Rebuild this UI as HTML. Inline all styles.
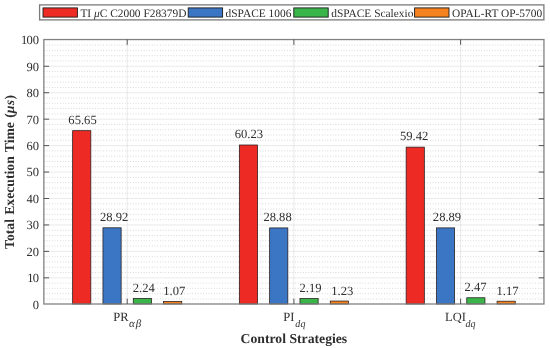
<!DOCTYPE html><html><head><meta charset="utf-8"><title>chart</title>
<style>html,body{margin:0;padding:0;background:#fff}svg{display:block}text{font-family:"Liberation Serif", serif;fill:#2e2e2e;text-rendering:geometricPrecision}</style></head><body>
<svg width="550" height="348" viewBox="0 0 550 348">
<rect width="550" height="348" fill="#fff"/>
<line x1="43.85" x2="543.95" y1="298.99" y2="298.99" stroke="#c4c4c4" stroke-width="0.8" stroke-dasharray="0.8 1.9"/>
<line x1="43.85" x2="543.95" y1="293.70" y2="293.70" stroke="#c4c4c4" stroke-width="0.8" stroke-dasharray="0.8 1.9"/>
<line x1="43.85" x2="543.95" y1="288.41" y2="288.41" stroke="#c4c4c4" stroke-width="0.8" stroke-dasharray="0.8 1.9"/>
<line x1="43.85" x2="543.95" y1="283.12" y2="283.12" stroke="#c4c4c4" stroke-width="0.8" stroke-dasharray="0.8 1.9"/>
<line x1="43.85" x2="543.95" y1="272.55" y2="272.55" stroke="#c4c4c4" stroke-width="0.8" stroke-dasharray="0.8 1.9"/>
<line x1="43.85" x2="543.95" y1="267.26" y2="267.26" stroke="#c4c4c4" stroke-width="0.8" stroke-dasharray="0.8 1.9"/>
<line x1="43.85" x2="543.95" y1="261.97" y2="261.97" stroke="#c4c4c4" stroke-width="0.8" stroke-dasharray="0.8 1.9"/>
<line x1="43.85" x2="543.95" y1="256.68" y2="256.68" stroke="#c4c4c4" stroke-width="0.8" stroke-dasharray="0.8 1.9"/>
<line x1="43.85" x2="543.95" y1="246.10" y2="246.10" stroke="#c4c4c4" stroke-width="0.8" stroke-dasharray="0.8 1.9"/>
<line x1="43.85" x2="543.95" y1="240.81" y2="240.81" stroke="#c4c4c4" stroke-width="0.8" stroke-dasharray="0.8 1.9"/>
<line x1="43.85" x2="543.95" y1="235.52" y2="235.52" stroke="#c4c4c4" stroke-width="0.8" stroke-dasharray="0.8 1.9"/>
<line x1="43.85" x2="543.95" y1="230.23" y2="230.23" stroke="#c4c4c4" stroke-width="0.8" stroke-dasharray="0.8 1.9"/>
<line x1="43.85" x2="543.95" y1="219.66" y2="219.66" stroke="#c4c4c4" stroke-width="0.8" stroke-dasharray="0.8 1.9"/>
<line x1="43.85" x2="543.95" y1="214.37" y2="214.37" stroke="#c4c4c4" stroke-width="0.8" stroke-dasharray="0.8 1.9"/>
<line x1="43.85" x2="543.95" y1="209.08" y2="209.08" stroke="#c4c4c4" stroke-width="0.8" stroke-dasharray="0.8 1.9"/>
<line x1="43.85" x2="543.95" y1="203.79" y2="203.79" stroke="#c4c4c4" stroke-width="0.8" stroke-dasharray="0.8 1.9"/>
<line x1="43.85" x2="543.95" y1="193.21" y2="193.21" stroke="#c4c4c4" stroke-width="0.8" stroke-dasharray="0.8 1.9"/>
<line x1="43.85" x2="543.95" y1="187.92" y2="187.92" stroke="#c4c4c4" stroke-width="0.8" stroke-dasharray="0.8 1.9"/>
<line x1="43.85" x2="543.95" y1="182.63" y2="182.63" stroke="#c4c4c4" stroke-width="0.8" stroke-dasharray="0.8 1.9"/>
<line x1="43.85" x2="543.95" y1="177.34" y2="177.34" stroke="#c4c4c4" stroke-width="0.8" stroke-dasharray="0.8 1.9"/>
<line x1="43.85" x2="543.95" y1="166.77" y2="166.77" stroke="#c4c4c4" stroke-width="0.8" stroke-dasharray="0.8 1.9"/>
<line x1="43.85" x2="543.95" y1="161.48" y2="161.48" stroke="#c4c4c4" stroke-width="0.8" stroke-dasharray="0.8 1.9"/>
<line x1="43.85" x2="543.95" y1="156.19" y2="156.19" stroke="#c4c4c4" stroke-width="0.8" stroke-dasharray="0.8 1.9"/>
<line x1="43.85" x2="543.95" y1="150.90" y2="150.90" stroke="#c4c4c4" stroke-width="0.8" stroke-dasharray="0.8 1.9"/>
<line x1="43.85" x2="543.95" y1="140.32" y2="140.32" stroke="#c4c4c4" stroke-width="0.8" stroke-dasharray="0.8 1.9"/>
<line x1="43.85" x2="543.95" y1="135.03" y2="135.03" stroke="#c4c4c4" stroke-width="0.8" stroke-dasharray="0.8 1.9"/>
<line x1="43.85" x2="543.95" y1="129.74" y2="129.74" stroke="#c4c4c4" stroke-width="0.8" stroke-dasharray="0.8 1.9"/>
<line x1="43.85" x2="543.95" y1="124.45" y2="124.45" stroke="#c4c4c4" stroke-width="0.8" stroke-dasharray="0.8 1.9"/>
<line x1="43.85" x2="543.95" y1="113.88" y2="113.88" stroke="#c4c4c4" stroke-width="0.8" stroke-dasharray="0.8 1.9"/>
<line x1="43.85" x2="543.95" y1="108.59" y2="108.59" stroke="#c4c4c4" stroke-width="0.8" stroke-dasharray="0.8 1.9"/>
<line x1="43.85" x2="543.95" y1="103.30" y2="103.30" stroke="#c4c4c4" stroke-width="0.8" stroke-dasharray="0.8 1.9"/>
<line x1="43.85" x2="543.95" y1="98.01" y2="98.01" stroke="#c4c4c4" stroke-width="0.8" stroke-dasharray="0.8 1.9"/>
<line x1="43.85" x2="543.95" y1="87.43" y2="87.43" stroke="#c4c4c4" stroke-width="0.8" stroke-dasharray="0.8 1.9"/>
<line x1="43.85" x2="543.95" y1="82.14" y2="82.14" stroke="#c4c4c4" stroke-width="0.8" stroke-dasharray="0.8 1.9"/>
<line x1="43.85" x2="543.95" y1="76.85" y2="76.85" stroke="#c4c4c4" stroke-width="0.8" stroke-dasharray="0.8 1.9"/>
<line x1="43.85" x2="543.95" y1="71.56" y2="71.56" stroke="#c4c4c4" stroke-width="0.8" stroke-dasharray="0.8 1.9"/>
<line x1="43.85" x2="543.95" y1="60.99" y2="60.99" stroke="#c4c4c4" stroke-width="0.8" stroke-dasharray="0.8 1.9"/>
<line x1="43.85" x2="543.95" y1="55.70" y2="55.70" stroke="#c4c4c4" stroke-width="0.8" stroke-dasharray="0.8 1.9"/>
<line x1="43.85" x2="543.95" y1="50.41" y2="50.41" stroke="#c4c4c4" stroke-width="0.8" stroke-dasharray="0.8 1.9"/>
<line x1="43.85" x2="543.95" y1="45.12" y2="45.12" stroke="#c4c4c4" stroke-width="0.8" stroke-dasharray="0.8 1.9"/>
<line x1="43.85" x2="543.95" y1="277.83" y2="277.83" stroke="#dcdcdc" stroke-width="0.6"/>
<line x1="43.85" x2="543.95" y1="251.39" y2="251.39" stroke="#dcdcdc" stroke-width="0.6"/>
<line x1="43.85" x2="543.95" y1="224.94" y2="224.94" stroke="#dcdcdc" stroke-width="0.6"/>
<line x1="43.85" x2="543.95" y1="198.50" y2="198.50" stroke="#dcdcdc" stroke-width="0.6"/>
<line x1="43.85" x2="543.95" y1="172.05" y2="172.05" stroke="#dcdcdc" stroke-width="0.6"/>
<line x1="43.85" x2="543.95" y1="145.61" y2="145.61" stroke="#dcdcdc" stroke-width="0.6"/>
<line x1="43.85" x2="543.95" y1="119.16" y2="119.16" stroke="#dcdcdc" stroke-width="0.6"/>
<line x1="43.85" x2="543.95" y1="92.72" y2="92.72" stroke="#dcdcdc" stroke-width="0.6"/>
<line x1="43.85" x2="543.95" y1="66.27" y2="66.27" stroke="#dcdcdc" stroke-width="0.6"/>
<line x1="127.20" x2="127.20" y1="39.55" y2="304.00" stroke="#dcdcdc" stroke-width="0.6"/>
<line x1="293.90" x2="293.90" y1="39.55" y2="304.00" stroke="#dcdcdc" stroke-width="0.6"/>
<line x1="460.60" x2="460.60" y1="39.55" y2="304.00" stroke="#dcdcdc" stroke-width="0.6"/>
<rect x="72.64" y="130.67" width="18.19" height="173.33" fill="#ee2a24" stroke="#241a1a" stroke-width="0.75"/>
<text x="82.54" y="124.10" font-size="12.6" text-anchor="middle">65.65</text>
<rect x="102.95" y="227.80" width="18.19" height="76.20" fill="#3a76c4" stroke="#241a1a" stroke-width="0.75"/>
<text x="114.20" y="221.10" font-size="12.6" text-anchor="middle">28.92</text>
<rect x="133.26" y="298.36" width="18.19" height="5.64" fill="#3ab54a" stroke="#241a1a" stroke-width="0.75"/>
<text x="143.75" y="291.90" font-size="12.6" text-anchor="middle">2.24</text>
<rect x="163.57" y="301.45" width="18.19" height="2.55" fill="#f5821f" stroke="#241a1a" stroke-width="0.75"/>
<text x="174.26" y="294.80" font-size="12.6" text-anchor="middle">1.07</text>
<rect x="239.34" y="145.00" width="18.19" height="159.00" fill="#ee2a24" stroke="#241a1a" stroke-width="0.75"/>
<text x="248.94" y="138.20" font-size="12.6" text-anchor="middle">60.23</text>
<rect x="269.65" y="227.91" width="18.19" height="76.09" fill="#3a76c4" stroke="#241a1a" stroke-width="0.75"/>
<text x="277.55" y="221.10" font-size="12.6" text-anchor="middle">28.88</text>
<rect x="299.96" y="298.49" width="18.19" height="5.51" fill="#3ab54a" stroke="#241a1a" stroke-width="0.75"/>
<text x="310.55" y="291.90" font-size="12.6" text-anchor="middle">2.19</text>
<rect x="330.27" y="301.03" width="18.19" height="2.97" fill="#f5821f" stroke="#241a1a" stroke-width="0.75"/>
<text x="342.26" y="294.80" font-size="12.6" text-anchor="middle">1.23</text>
<rect x="406.14" y="147.14" width="18.19" height="156.86" fill="#ee2a24" stroke="#241a1a" stroke-width="0.75"/>
<text x="414.19" y="140.40" font-size="12.6" text-anchor="middle">59.42</text>
<rect x="436.45" y="227.88" width="18.19" height="76.12" fill="#3a76c4" stroke="#241a1a" stroke-width="0.75"/>
<text x="447.00" y="221.10" font-size="12.6" text-anchor="middle">28.89</text>
<rect x="466.76" y="297.75" width="18.19" height="6.25" fill="#3ab54a" stroke="#241a1a" stroke-width="0.75"/>
<text x="475.50" y="291.20" font-size="12.6" text-anchor="middle">2.47</text>
<rect x="497.07" y="301.19" width="18.19" height="2.81" fill="#f5821f" stroke="#241a1a" stroke-width="0.75"/>
<text x="507.51" y="294.50" font-size="12.6" text-anchor="middle">1.17</text>
<rect x="43.85" y="39.55" width="500.10" height="264.45" fill="none" stroke="#828282" stroke-width="1.3"/>
<line x1="43.85" x2="49.15" y1="277.83" y2="277.83" stroke="#444" stroke-width="0.9"/>
<line x1="543.95" x2="538.65" y1="277.83" y2="277.83" stroke="#444" stroke-width="0.9"/>
<line x1="43.85" x2="49.15" y1="251.39" y2="251.39" stroke="#444" stroke-width="0.9"/>
<line x1="543.95" x2="538.65" y1="251.39" y2="251.39" stroke="#444" stroke-width="0.9"/>
<line x1="43.85" x2="49.15" y1="224.94" y2="224.94" stroke="#444" stroke-width="0.9"/>
<line x1="543.95" x2="538.65" y1="224.94" y2="224.94" stroke="#444" stroke-width="0.9"/>
<line x1="43.85" x2="49.15" y1="198.50" y2="198.50" stroke="#444" stroke-width="0.9"/>
<line x1="543.95" x2="538.65" y1="198.50" y2="198.50" stroke="#444" stroke-width="0.9"/>
<line x1="43.85" x2="49.15" y1="172.05" y2="172.05" stroke="#444" stroke-width="0.9"/>
<line x1="543.95" x2="538.65" y1="172.05" y2="172.05" stroke="#444" stroke-width="0.9"/>
<line x1="43.85" x2="49.15" y1="145.61" y2="145.61" stroke="#444" stroke-width="0.9"/>
<line x1="543.95" x2="538.65" y1="145.61" y2="145.61" stroke="#444" stroke-width="0.9"/>
<line x1="43.85" x2="49.15" y1="119.16" y2="119.16" stroke="#444" stroke-width="0.9"/>
<line x1="543.95" x2="538.65" y1="119.16" y2="119.16" stroke="#444" stroke-width="0.9"/>
<line x1="43.85" x2="49.15" y1="92.72" y2="92.72" stroke="#444" stroke-width="0.9"/>
<line x1="543.95" x2="538.65" y1="92.72" y2="92.72" stroke="#444" stroke-width="0.9"/>
<line x1="43.85" x2="49.15" y1="66.27" y2="66.27" stroke="#444" stroke-width="0.9"/>
<line x1="543.95" x2="538.65" y1="66.27" y2="66.27" stroke="#444" stroke-width="0.9"/>
<line x1="127.20" x2="127.20" y1="304.00" y2="298.70" stroke="#444" stroke-width="0.9"/>
<line x1="127.20" x2="127.20" y1="39.55" y2="44.85" stroke="#444" stroke-width="0.9"/>
<line x1="293.90" x2="293.90" y1="304.00" y2="298.70" stroke="#444" stroke-width="0.9"/>
<line x1="293.90" x2="293.90" y1="39.55" y2="44.85" stroke="#444" stroke-width="0.9"/>
<line x1="460.60" x2="460.60" y1="304.00" y2="298.70" stroke="#444" stroke-width="0.9"/>
<line x1="460.60" x2="460.60" y1="39.55" y2="44.85" stroke="#444" stroke-width="0.9"/>
<text x="38.95" y="308.68" font-size="12.5" text-anchor="end">0</text>
<text x="38.95" y="282.23" font-size="12.5" text-anchor="end"><tspan letter-spacing="-0.9">1</tspan>0</text>
<text x="38.95" y="255.79" font-size="12.5" text-anchor="end">20</text>
<text x="38.95" y="229.34" font-size="12.5" text-anchor="end">30</text>
<text x="38.95" y="202.90" font-size="12.5" text-anchor="end">40</text>
<text x="38.95" y="176.45" font-size="12.5" text-anchor="end">50</text>
<text x="38.95" y="150.01" font-size="12.5" text-anchor="end">60</text>
<text x="38.95" y="123.56" font-size="12.5" text-anchor="end">70</text>
<text x="38.95" y="97.12" font-size="12.5" text-anchor="end">80</text>
<text x="38.95" y="70.67" font-size="12.5" text-anchor="end">90</text>
<text x="38.95" y="44.23" font-size="12.5" text-anchor="end"><tspan letter-spacing="-0.9">1</tspan>00</text>
<text x="113.3" y="320.8" font-size="12.5">PR</text>
<text x="128.9" y="326.8" font-size="11" font-style="italic" letter-spacing="1">αβ</text>
<text x="283.2" y="320.8" font-size="12.5">PI</text>
<text x="295.2" y="326.8" font-size="10" font-style="italic" letter-spacing="0.4">dq</text>
<text x="445.0" y="320.8" font-size="12.5">LQI</text>
<text x="465.4" y="326.8" font-size="10" font-style="italic" letter-spacing="0.2">dq</text>
<text x="293.90" y="343.4" font-size="13.7" font-weight="bold" text-anchor="middle">Control Strategies</text>
<text transform="translate(14.4,171.95) rotate(-90)" font-size="13.7" font-weight="bold" word-spacing="0.8" text-anchor="middle">Total Execution Time (<tspan font-style="italic" letter-spacing="0.4">μs</tspan>)</text>
<rect x="39.6" y="4.9" width="504.3" height="15.0" fill="#fff" stroke="#7a7a7a" stroke-width="1.3"/>
<rect x="43.00" y="7.9" width="34.4" height="9.2" fill="#ee2a24" stroke="#1a1a1a" stroke-width="0.9"/>
<text x="80.40" y="16.65" font-size="11.4">TI <tspan font-style="italic">μ</tspan>C C2000 F28379D</text>
<rect x="188.20" y="7.9" width="34.4" height="9.2" fill="#3a76c4" stroke="#1a1a1a" stroke-width="0.9"/>
<text x="225.60" y="16.65" font-size="11.4">dSPACE 1006</text>
<rect x="293.80" y="7.9" width="34.4" height="9.2" fill="#3ab54a" stroke="#1a1a1a" stroke-width="0.9"/>
<text x="331.20" y="16.65" font-size="11.4">dSPACE Scalexio</text>
<rect x="414.60" y="7.9" width="34.4" height="9.2" fill="#f5821f" stroke="#1a1a1a" stroke-width="0.9"/>
<text x="452.00" y="16.65" font-size="11.4">OPAL-RT OP-5700</text>
</svg></body></html>
